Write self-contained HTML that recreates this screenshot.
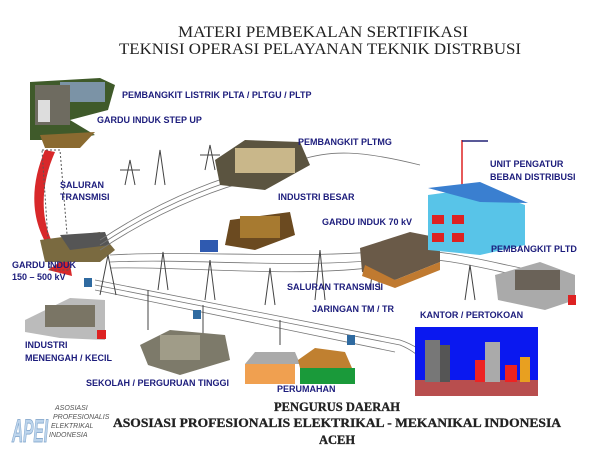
<!DOCTYPE html>
<html><head><meta charset="utf-8"><style>
html,body{margin:0;padding:0;background:#fff;}
svg{display:block}
.l{font-family:"Liberation Sans",sans-serif;font-weight:bold;font-size:9px;fill:#1c1c7c}
.t{font-family:"Liberation Serif",serif;font-size:16px;fill:#222}
.b{font-family:"Liberation Serif",serif;font-weight:bold;font-size:12.5px;fill:#222;stroke:#222;stroke-width:.3}
</style></head><body>
<svg width="600" height="450" viewBox="0 0 600 450" xmlns="http://www.w3.org/2000/svg">
<text class="t" x="323" y="37" text-anchor="middle" textLength="290" lengthAdjust="spacingAndGlyphs">MATERI PEMBEKALAN SERTIFIKASI</text>
<text class="t" x="320" y="54" text-anchor="middle" textLength="402" lengthAdjust="spacingAndGlyphs">TEKNISI OPERASI PELAYANAN TEKNIK DISTRBUSI</text>

<path d="M30 82 L100 78 L115 85 L108 110 L70 120 L95 135 L70 140 L30 140 Z" fill="#3f5a2a"/>
<rect x="60" y="82" width="45" height="20" fill="#7b93a6"/>
<rect x="35" y="85" width="35" height="40" fill="#6e6b60"/>
<rect x="38" y="100" width="12" height="22" fill="#ddd"/>
<path d="M40 135 L95 132 L80 148 L45 148 Z" fill="#8a6a30"/>
<path d="M45 150 C28 190 30 230 60 262 L48 270 L72 276 L68 252 L62 258 C40 230 38 190 55 152 Z" fill="#d8282a"/>
<path d="M42 150 L60 150 L70 270 L50 270 Z" fill="none" stroke="#555" stroke-width="1" stroke-dasharray="2 2"/>
<path d="M40 240 L100 232 L115 250 L100 262 L45 262 Z" fill="#7a6a40"/>
<path d="M60 235 L105 232 L110 245 L70 250 Z" fill="#555"/>

<g fill="none" stroke="#777" stroke-width=".8">
<path d="M100 240 C160 200 230 170 300 160 C330 150 360 150 420 165"/>
<path d="M100 245 C160 205 230 175 300 165"/>
<path d="M100 250 C160 210 230 180 300 170"/>
<path d="M110 255 C200 250 300 260 400 250 C450 250 480 260 540 272"/>
<path d="M110 262 C200 258 300 270 400 258 C450 258 480 268 540 280"/>
<path d="M110 268 C200 266 300 280 400 264"/>
<path d="M95 280 C200 300 300 320 400 340 C430 350 440 370 450 390"/>
<path d="M95 285 C200 305 300 325 400 345 C425 355 435 375 445 392"/>
<path d="M95 290 C200 312 300 332 395 352"/>
</g>
<g fill="none" stroke="#444" stroke-width="1">
<path d="M125 185 L130 160 L135 185 M120 170 L140 170 M155 185 L160 150 L165 185"/>
<path d="M205 170 L210 145 L215 170 M200 155 L220 155"/>
<path d="M100 295 L108 255 L116 295 M158 290 L163 252 L168 290 M205 300 L210 260 L215 300 M265 305 L270 268 L275 305 M315 300 L320 250 L325 300 M370 290 L375 252 L380 290 M465 300 L470 265 L475 300"/>
<path d="M148 330 L148 290 M203 345 L203 305 M280 345 L280 320"/>
</g>
<rect x="200" y="240" width="18" height="12" fill="#2f5ab0"/>
<rect x="84" y="278" width="8" height="9" fill="#2f6aa0"/>
<rect x="193" y="310" width="8" height="9" fill="#2f6aa0"/>
<rect x="347" y="335" width="8" height="10" fill="#2f6aa0"/>

<path d="M215 160 L245 140 L300 142 L310 165 L265 190 L220 185 Z" fill="#5b5440"/>
<rect x="235" y="148" width="60" height="25" fill="#c9b78a"/>
<path d="M230 220 L290 212 L295 235 L255 250 L225 245 Z" fill="#6b4a20"/>
<rect x="240" y="216" width="40" height="22" fill="#a77a30"/>
<path d="M360 248 L410 232 L440 238 L440 262 L395 280 L362 272 Z" fill="#6a5a48"/>
<path d="M365 265 L395 280 L440 262 L440 270 L395 288 L362 276 Z" fill="#c07a30"/>
<line x1="462" y1="140" x2="462" y2="200" stroke="#d22" stroke-width="1.5"/>
<line x1="462" y1="141" x2="488" y2="141" stroke="#227" stroke-width="1.5"/>
<path d="M428 195 L480 188 L525 205 L525 245 L480 255 L428 250 Z" fill="#58c4e8"/>
<path d="M428 188 L480 182 L528 203 L480 202 Z" fill="#3a7fd0"/>
<rect x="432" y="215" width="12" height="9" fill="#d22"/>
<rect x="452" y="215" width="12" height="9" fill="#d22"/>
<rect x="432" y="233" width="12" height="9" fill="#d22"/>
<rect x="452" y="233" width="12" height="9" fill="#d22"/>
<path d="M495 275 L540 262 L575 275 L575 300 L545 310 L498 300 Z" fill="#aaa"/>
<rect x="515" y="270" width="45" height="20" fill="#6a6258"/>
<rect x="568" y="295" width="8" height="10" fill="#d22"/>
<path d="M25 320 L70 298 L105 300 L105 340 L60 338 L25 332 Z" fill="#bbb"/>
<rect x="45" y="305" width="50" height="22" fill="#7a7565"/>
<rect x="97" y="330" width="9" height="9" fill="#d22"/>
<path d="M140 345 L170 330 L225 335 L230 360 L180 375 L148 365 Z" fill="#7d7a6a"/>
<rect x="160" y="335" width="40" height="25" fill="#a09c88"/>
<rect x="245" y="364" width="50" height="20" fill="#f0a050"/>
<path d="M245 364 L255 352 L295 352 L300 364 Z" fill="#aaa"/>
<path d="M298 360 L315 348 L345 352 L352 368 L300 368 Z" fill="#c08030"/>
<rect x="300" y="368" width="55" height="16" fill="#1a9a3a"/>
<rect x="415" y="327" width="123" height="69" fill="#0a18f0"/>
<rect x="415" y="380" width="123" height="16" fill="#b84e4e"/>
<rect x="425" y="340" width="15" height="42" fill="#777"/>
<rect x="440" y="345" width="10" height="37" fill="#555"/>
<rect x="485" y="342" width="15" height="40" fill="#aaa"/>
<rect x="475" y="360" width="10" height="22" fill="#e22"/>
<rect x="505" y="365" width="12" height="17" fill="#e22"/>
<rect x="520" y="357" width="10" height="25" fill="#e8a020"/>

<text class="l" x="122" y="98">PEMBANGKIT LISTRIK  PLTA / PLTGU / PLTP</text>
<text class="l" x="97" y="123">GARDU INDUK STEP UP</text>
<text class="l" x="298" y="145">PEMBANGKIT PLTMG</text>
<text class="l" x="490" y="167">UNIT PENGATUR</text>
<text class="l" x="490" y="180">BEBAN DISTRIBUSI</text>
<text class="l" x="60" y="188">SALURAN</text>
<text class="l" x="60" y="200">TRANSMISI</text>
<text class="l" x="278" y="200">INDUSTRI BESAR</text>
<text class="l" x="322" y="225">GARDU INDUK 70 kV</text>
<text class="l" x="491" y="252">PEMBANGKIT PLTD</text>
<text class="l" x="12" y="268">GARDU INDUK</text>
<text class="l" x="12" y="280">150 – 500 kV</text>
<text class="l" x="287" y="290">SALURAN TRANSMISI</text>
<text class="l" x="312" y="312">JARINGAN TM / TR</text>
<text class="l" x="420" y="318">KANTOR / PERTOKOAN</text>
<text class="l" x="25" y="348">INDUSTRI</text>
<text class="l" x="25" y="361">MENENGAH / KECIL</text>
<text class="l" x="86" y="386">SEKOLAH / PERGURUAN TINGGI</text>
<text class="l" x="277" y="392">PERUMAHAN</text>

<text x="12" y="442" font-family="Liberation Sans,sans-serif" font-style="italic" font-weight="bold" font-size="32" fill="#bcd4ec" stroke="#7aa0c8" stroke-width=".8" textLength="36" lengthAdjust="spacingAndGlyphs">APEI</text>
<g font-family="Liberation Sans,sans-serif" font-style="italic" font-size="7" fill="#555">
<text x="55" y="410">ASOSIASI</text><text x="53" y="419">PROFESIONALIS</text>
<text x="51" y="428">ELEKTRIKAL</text><text x="49" y="437">INDONESIA</text></g>

<text class="b" x="337" y="411" text-anchor="middle">PENGURUS DAERAH</text>
<text class="b" x="337" y="427" text-anchor="middle" textLength="448" lengthAdjust="spacingAndGlyphs">ASOSIASI PROFESIONALIS ELEKTRIKAL - MEKANIKAL INDONESIA</text>
<text class="b" x="337" y="444" text-anchor="middle">ACEH</text>
</svg>
</body></html>
